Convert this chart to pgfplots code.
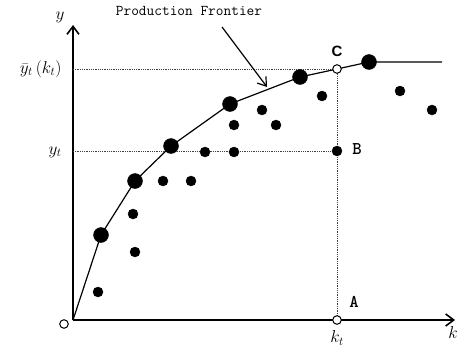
\documentclass[border=0pt]{standalone}
\usepackage{fontspec}
\setmainfont{Liberation Serif}
\newfontfamily\sansf{Liberation Sans}
\newfontfamily\ttb{lmmonolt10-bold.otf}
\usepackage{pgfplots}
\pgfplotsset{compat=1.18}
\usetikzlibrary{arrows.meta}
\begin{document}
\begin{tikzpicture}
\begin{axis}[width=474bp,height=355bp,scale only axis,
  xmin=0,xmax=474,ymin=0,ymax=355,y dir=reverse,
  axis lines=none,clip=false]
% axes
\addplot[line width=1.8bp,-{Straight Barb[length=8bp,width=12bp,line width=1.6bp]}] coordinates {(73,320) (455,320)};
\addplot[line width=1.8bp,-{Straight Barb[length=8bp,width=12bp,line width=1.6bp]}] coordinates {(73,320) (73,25)};
% dotted guides
\addplot[densely dotted,line width=0.8bp,black!75] coordinates {(73,69) (337,69)};
\addplot[densely dotted,line width=0.8bp,black!75] coordinates {(73,151) (337,151)};
\addplot[densely dotted,line width=0.8bp,black!75] coordinates {(337,69) (337,320)};
% frontier
\addplot[line width=1.2bp,black] coordinates {(73,320) (101,235) (135,181) (171,146) (230,104) (300,77) (337,69) (369,62) (442,62)};
% large dots
\addplot[only marks,mark=*,mark size=7.5bp,black] coordinates {(101,235) (135,181) (171,146) (230,104) (300,77) (369,62)};
% small dots
\addplot[only marks,mark=*,mark size=5bp,black] coordinates {(98,292) (133,214) (135,252) (163,181) (191,181) (205,152) (234,152) (234,125) (262,110) (276,125) (322,96) (400,91) (432,110) (337,151)};
% open circles
\addplot[only marks,mark=*,mark size=4.3bp,mark options={fill=white,draw=black,line width=1bp}] coordinates {(337,69) (337,320) (64,324)};
% labels
\node[font=\fontsize{17}{18}\selectfont] at (axis cs:60,17) {$y$};
\node[anchor=east,font=\fontsize{17}{18}\selectfont] at (axis cs:65,69) {$\bar{y}_t\,(k_t)$};
\node[anchor=east,font=\fontsize{17}{18}\selectfont] at (axis cs:65,152) {$y_t$};
\node[font=\fontsize{17}{18}\selectfont] at (axis cs:453,333) {$k$};
\node[font=\fontsize{17}{18}\selectfont] at (axis cs:337,338) {$k_t$};
\node[font=\ttb\fontsize{18}{18}\selectfont] at (axis cs:354,302) {A};
\node[font=\ttb\fontsize{18}{18}\selectfont] at (axis cs:357,149) {B};
\node[font=\sansf\bfseries\fontsize{15}{18}\selectfont] at (axis cs:337,51) {C};
\node[font=\ttfamily\fontsize{15}{16}\selectfont] at (axis cs:189,11) {Production Frontier};
\draw[line width=1.2bp,-{Straight Barb[length=8bp,width=11bp,line width=1.2bp]}] (axis cs:222,27) -- (axis cs:267,87);
\end{axis}
\pgfresetboundingbox
\path[use as bounding box] (0,0) rectangle (474bp,355bp);
\end{tikzpicture}
\end{document}
